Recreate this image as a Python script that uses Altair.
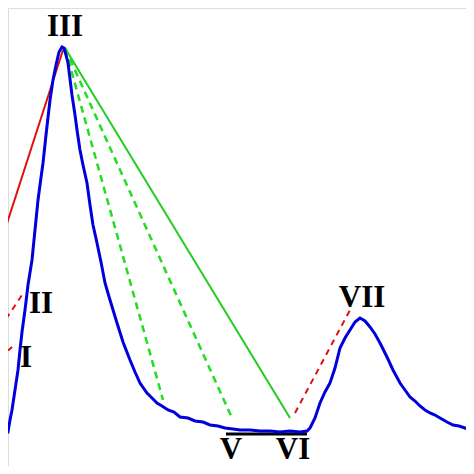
import altair as alt
import pandas as pd

# Blue signal curve (time, amplitude)
blue_t = [0, 8, 10, 12, 15, 18, 20, 22, 25, 28, 32, 35, 38, 40, 43, 46, 50, 53, 56, 59,
          62, 64, 66, 68, 72, 75, 77, 80, 83, 87, 90, 93, 97, 101, 105, 110, 117, 123, 130,
          135, 140, 147, 152, 157, 162, 168, 174, 180, 188, 195, 203, 210, 218, 225, 233,
          240, 250, 260, 270, 280, 290, 300, 307, 310, 315,
          320, 325, 330, 335, 340, 345, 350, 355, 360, 365, 370, 375, 380, 387, 393, 400,
          405, 410, 415, 420, 425, 430, 435, 440, 447, 453, 459, 465, 474]
blue_v = [42, 42, 54, 64, 84, 104, 124, 142, 164, 189, 214, 244, 274, 289, 311, 339, 374,
          394, 409, 422, 427, 426, 419, 411, 379, 359, 344, 324, 309, 291, 269, 249, 231,
          212, 191, 174, 151, 132, 114, 102, 91, 81, 76, 71, 68, 64, 62, 57, 56, 53, 52, 49,
          48, 46, 45, 44, 44, 43, 43, 42, 43, 42,
          43, 46, 56, 71, 82, 91, 106, 126, 136, 144, 152, 156, 153, 147, 140, 131, 117, 104,
          91, 84, 77, 73, 68, 64, 61, 59, 56, 52, 49, 48, 46, 43]

# Construction lines
red_solid_t = [0, 63]
red_solid_v = [229, 424]
green_solid_t = [65, 290]
green_solid_v = [426, 56]
green_dash_id = ["a", "a", "b", "b"]
green_dash_t = [65, 163, 65, 232]
green_dash_v = [426, 74, 426, 56]
red_dash_id = ["I", "I", "II", "II", "VII", "VII"]
red_dash_t = [0, 12, 0, 22, 295, 350]
red_dash_v = [116, 127, 146, 179, 61, 164]
black_t = [226, 307]
black_v = [40, 40]

label_text = ["III", "II", "I", "V", "VI", "VII"]
label_t = [65, 41, 26, 231, 293, 362]
label_v = [438, 161, 107, 15, 15, 167]

xs = alt.Scale(domain=[8, 466], nice=False, zero=False)
ys = alt.Scale(domain=[8, 466], nice=False, zero=False)
X = lambda: alt.X("t:Q", scale=xs, axis=None)
Y = lambda: alt.Y("v:Q", scale=ys, axis=None)

blue = alt.Chart(pd.DataFrame({"t": blue_t, "v": blue_v})).mark_line(
    color="#0000dd", strokeWidth=3, clip=True).encode(x=X(), y=Y(), order="t:Q")

red_solid = alt.Chart(pd.DataFrame({"t": red_solid_t, "v": red_solid_v})).mark_line(
    color="#dd1111", strokeWidth=2, clip=True).encode(x=X(), y=Y())

green_solid = alt.Chart(pd.DataFrame({"t": green_solid_t, "v": green_solid_v})).mark_line(
    color="#22cc22", strokeWidth=2, clip=True).encode(x=X(), y=Y())

green_dash = alt.Chart(pd.DataFrame({"id": green_dash_id, "t": green_dash_t, "v": green_dash_v})).mark_line(
    color="#22dd22", strokeWidth=2.5, strokeDash=[7, 5], clip=True).encode(
    x=X(), y=Y(), detail="id:N")

red_dash = alt.Chart(pd.DataFrame({"id": red_dash_id, "t": red_dash_t, "v": red_dash_v})).mark_line(
    color="#dd1111", strokeWidth=2, strokeDash=[6, 5], clip=True).encode(
    x=X(), y=Y(), detail="id:N")

black = alt.Chart(pd.DataFrame({"t": black_t, "v": black_v})).mark_line(
    color="#000000", strokeWidth=3, clip=True).encode(x=X(), y=Y())

labels = alt.Chart(pd.DataFrame({"text": label_text, "t": label_t, "v": label_v})).mark_text(
    font="Liberation Serif", fontWeight="bold", fontSize=31, color="#000000",
    align="center", baseline="alphabetic").encode(x=X(), y=Y(), text="text:N")

chart = alt.layer(red_solid, green_solid, green_dash, red_dash, black, blue, labels).properties(
    width=458, height=458, padding=0, autosize=alt.AutoSizeParams(type="none")
).configure_view(stroke=None).configure(background="white")

chart.save("out.html", embed_options={"renderer": "svg", "actions": False})
